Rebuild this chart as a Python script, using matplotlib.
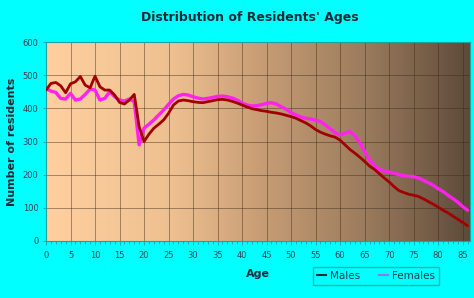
import matplotlib
matplotlib.use("Agg")
import matplotlib.pyplot as plt
import numpy as np
from matplotlib.colors import LinearSegmentedColormap
from matplotlib.lines import Line2D

ages = list(range(0, 87))

males = [455, 475, 478, 468, 447, 474, 480, 496, 470, 462,
         497, 465, 455, 455, 440, 418, 413, 425, 442, 345,
         300, 322, 340, 352, 365, 385, 410, 422, 425, 423,
         420, 418, 417, 420, 423, 426, 427, 425, 421, 416,
         410, 404, 399, 396, 393, 391, 388, 386, 383, 379,
         375, 370, 363, 356, 347, 336, 328, 322, 317, 313,
         304, 290, 276, 265, 253, 240, 226, 216, 203, 190,
         178, 164, 152, 146, 141, 138, 134, 127, 119, 111,
         102, 93, 85, 75, 66, 56, 46]

females = [460, 452, 448, 430, 428, 445, 425, 428, 442, 458,
           455, 425, 430, 450, 435, 425, 422, 428, 420, 290,
           340, 352, 365, 380, 395, 412, 428, 438, 442, 440,
           435, 431, 428, 430, 433, 436, 437, 435, 431, 425,
           416, 410, 407, 408, 411, 415, 417, 413, 405, 397,
           387, 380, 374, 370, 368, 364, 360, 350, 338, 326,
           320, 325, 330, 318, 296, 270, 245, 228, 216, 211,
           208, 204, 200, 197, 195, 194, 190, 183, 176, 168,
           158, 149, 138, 128, 117, 104, 93]

bg = '#00FFFF'
text_col = '#1a2a35'

fig = plt.figure(figsize=(4.74, 2.98), dpi=100, facecolor=bg)
ax = fig.add_axes([46 / 474, 1 - 241 / 298, 424 / 474, 199 / 298])

# peach-to-brown gradient behind the plot
grad = LinearSegmentedColormap.from_list(
    'bg', [(0, '#FFCF9F'), (0.3, '#EEC090'), (0.5, '#C99E76'), (0.75, '#9C7C5E'), (1, '#5E4A3A')])
ax.imshow(np.linspace(0, 1, 256).reshape(1, -1), cmap=grad, aspect='auto',
          extent=[0, 86.5, 0, 600], zorder=0)

ax.plot(ages, females, color='#FF22EE', lw=2.4, zorder=3, solid_capstyle='round')
ax.plot(ages, males, color='#A00000', lw=2.0, zorder=4, solid_capstyle='round')

ax.set_xlim(0, 86.5)
ax.set_ylim(0, 600)
ax.set_xticks(range(0, 86, 5))
ax.set_xticks(range(0, 87), minor=True)
ax.set_yticks(range(0, 601, 100))
ax.grid(True, which='major', color='#3a2a1a', alpha=0.45, lw=0.7)

for s in ax.spines.values():
    s.set_color('#20A0A0')
ax.tick_params(axis='both', which='both', colors='#20A0A0', labelcolor='#334050',
               labelsize=6, length=2, width=0.6)
ax.tick_params(axis='x', which='major', length=3, pad=4)

ax.set_xlabel('Age', fontsize=8, fontweight='bold', color=text_col, labelpad=7)
ax.set_ylabel('Number of residents', fontsize=8, fontweight='bold', color=text_col, labelpad=4)
fig.text(250 / 474, 1 - 18 / 298, "Distribution of Residents' Ages", ha='center', va='center',
         fontsize=9, fontweight='bold', color=text_col)

handles = [Line2D([], [], color='#203040', lw=1.5),
           Line2D([], [], color='#8080FF', lw=1.5)]
leg = fig.legend(handles, ['Males', 'Females'], loc='center', ncol=2,
                 bbox_to_anchor=(376 / 474, 1 - 276 / 298), fontsize=7.5,
                 frameon=True, fancybox=False, handlelength=0.9, handletextpad=0.4,
                 columnspacing=1.8, borderpad=0.35)
leg.get_frame().set_facecolor(bg)
leg.get_frame().set_edgecolor('#20A0A0')
for t in leg.get_texts():
    t.set_color('#204050')

plt.savefig('out.png', dpi=100, facecolor=bg)
